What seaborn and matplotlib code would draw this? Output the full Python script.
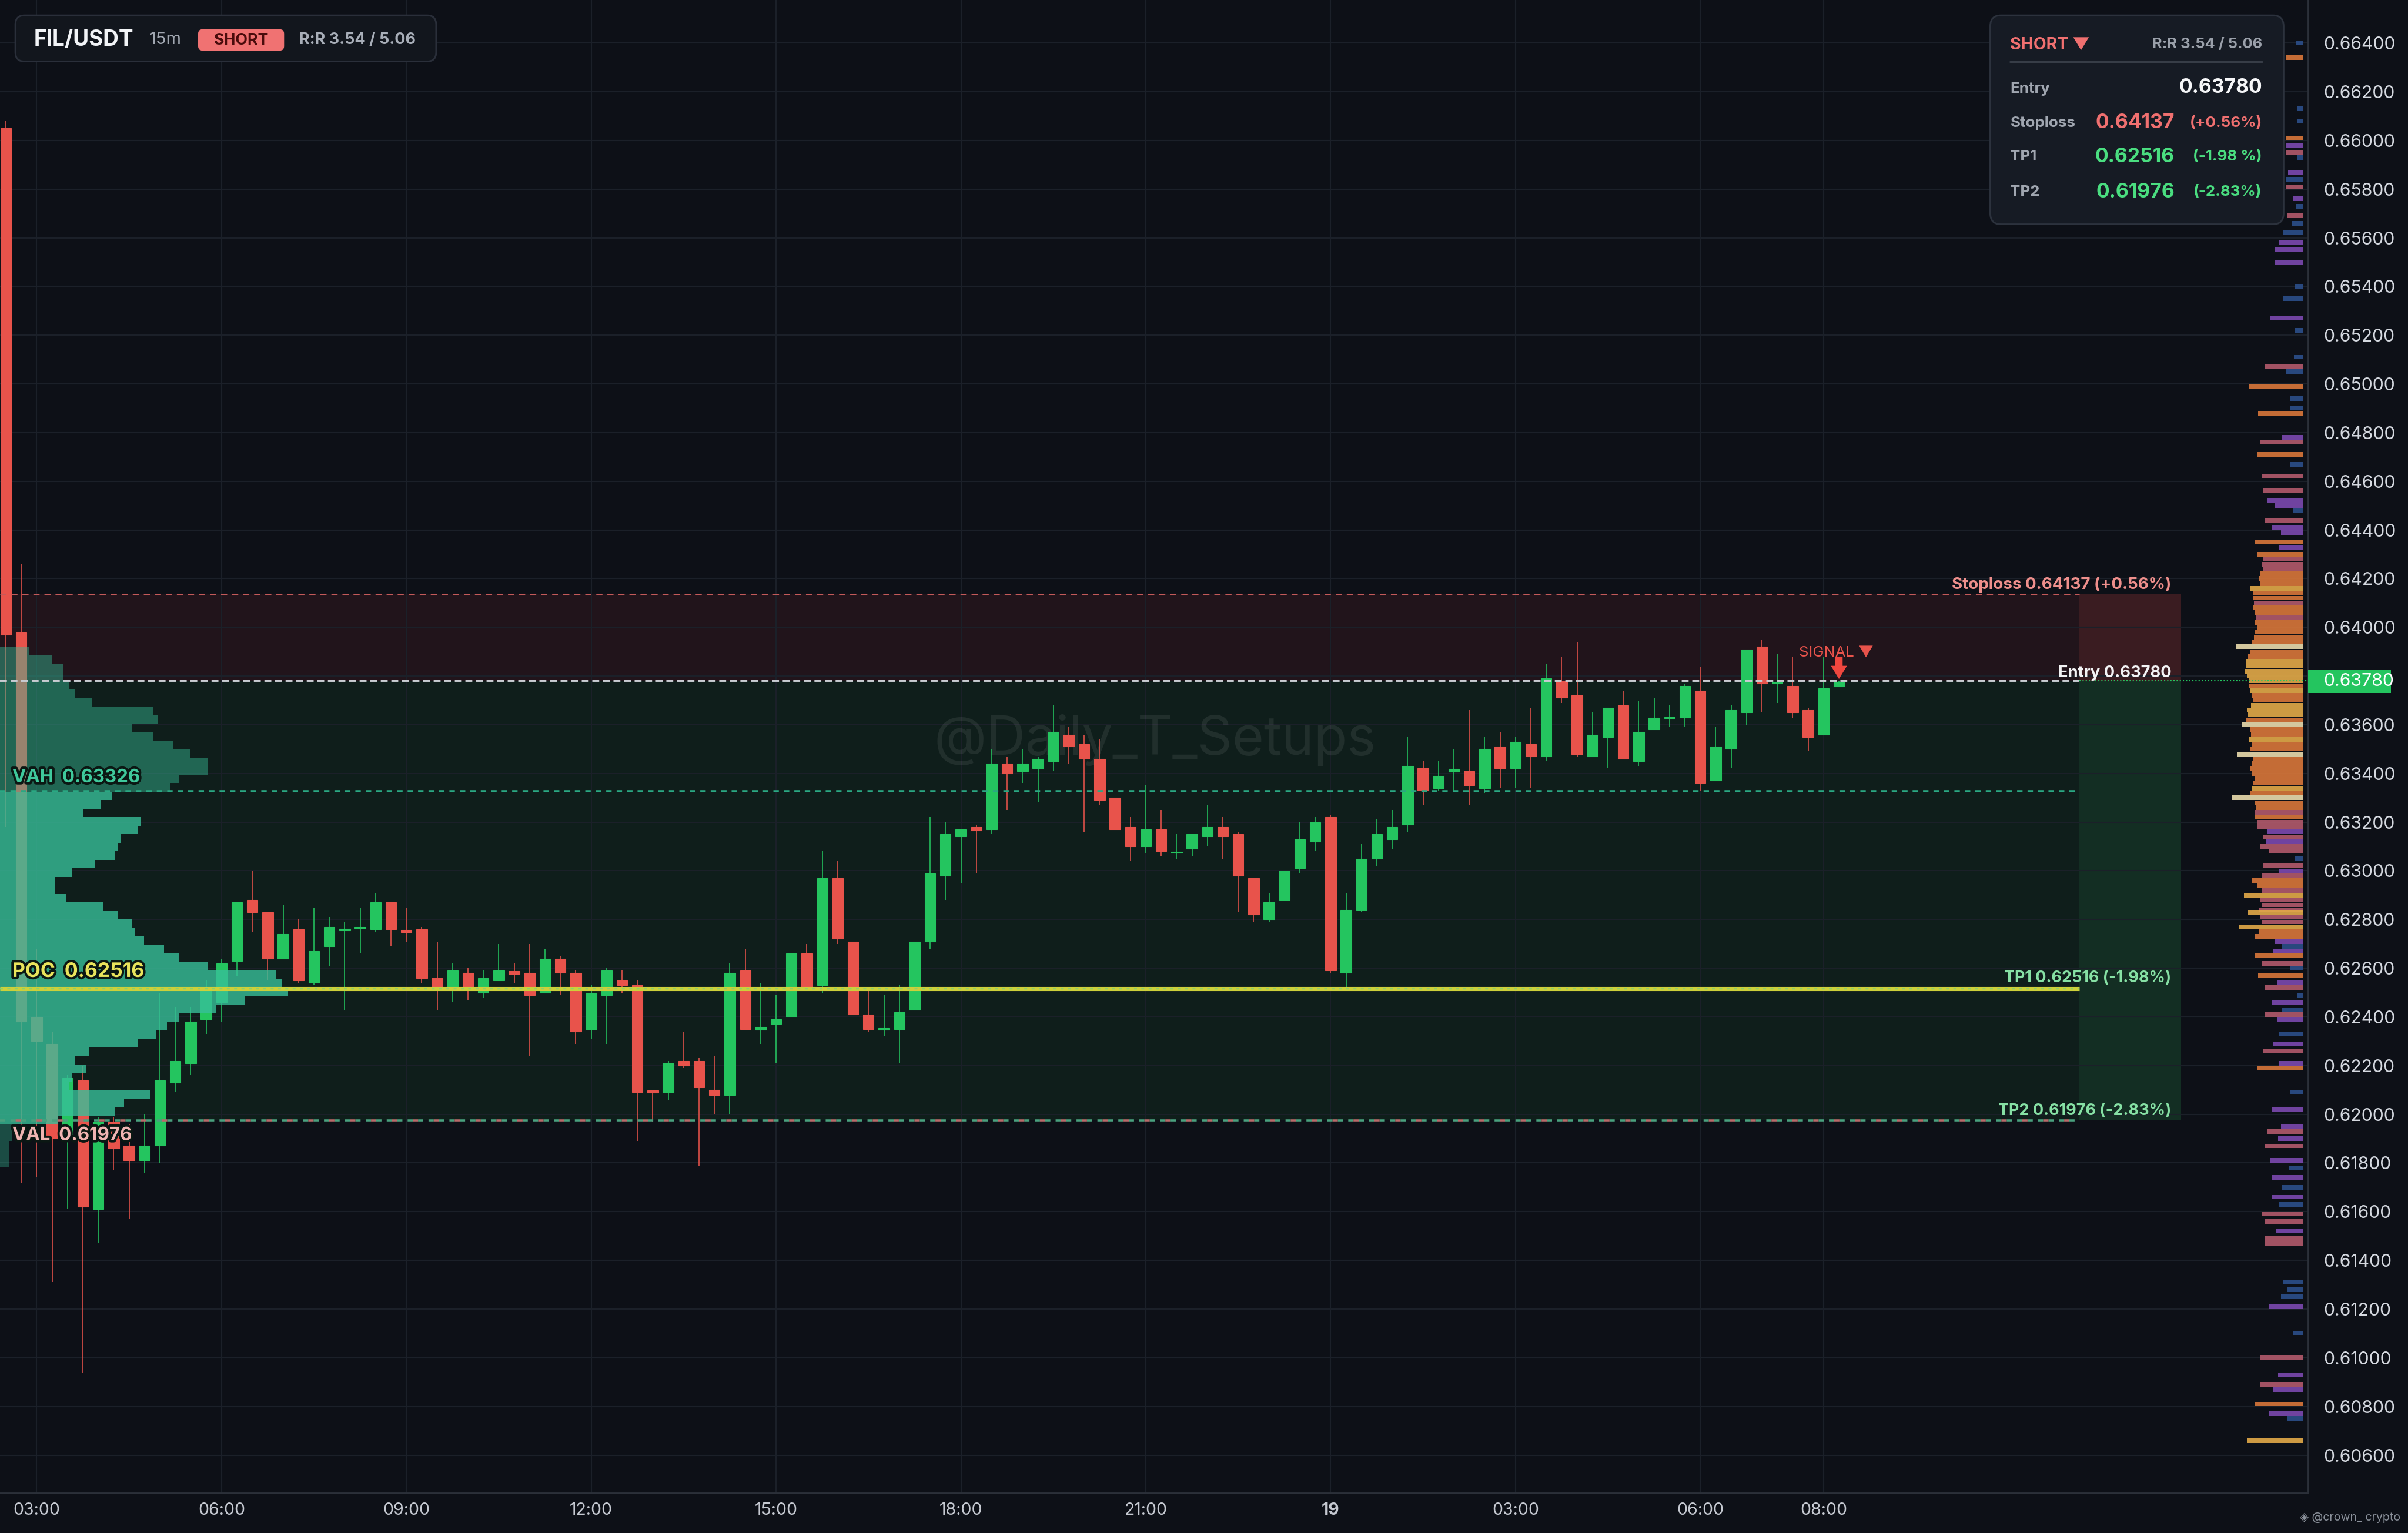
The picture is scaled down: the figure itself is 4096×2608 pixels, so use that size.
import numpy as np
import matplotlib
matplotlib.use('Agg')
import matplotlib.pyplot as plt
import matplotlib.patheffects as pe
from matplotlib.patches import FancyBboxPatch, Rectangle
import seaborn as sns

# FIL/USDT 15m candles, first candle at 02:30
opens = [0.6605, 0.6398, 0.6240, 0.6229, 0.6190, 0.6214, 0.6161, 0.6197, 0.6187, 0.6181,
         0.6187, 0.6213, 0.6221, 0.6239, 0.6246, 0.6263, 0.6288, 0.6283, 0.6264, 0.6276,
         0.6254, 0.6269, 0.62755, 0.62764, 0.6276, 0.6287, 0.62758, 0.6276, 0.6256, 0.6251,
         0.6258, 0.6250, 0.6255, 0.62589, 0.6258, 0.6250, 0.6264, 0.6258, 0.6235, 0.6249,
         0.6255, 0.6253, 0.62097, 0.6209, 0.6222, 0.6222, 0.6210, 0.6208, 0.6259, 0.62348,
         0.6237, 0.6240, 0.6266, 0.6253, 0.6297, 0.6271, 0.6241, 0.62348, 0.6235, 0.6243,
         0.6271, 0.6298, 0.6314, 0.63179, 0.6317, 0.6344, 0.6341, 0.6342, 0.6345, 0.6356,
         0.6352, 0.6346, 0.6330, 0.6318, 0.6310, 0.6317, 0.63074, 0.6309, 0.6314, 0.6318,
         0.6315, 0.6297, 0.6280, 0.6288, 0.6301, 0.6312, 0.6322, 0.6258, 0.6284, 0.6305,
         0.6313, 0.6319, 0.6342, 0.6334, 0.63407, 0.6341, 0.6334, 0.6351, 0.6342, 0.6352,
         0.6347, 0.6378, 0.6372, 0.6347, 0.6355, 0.6368, 0.6345, 0.6358, 0.63627, 0.6363,
         0.6374, 0.6337, 0.6350, 0.6365, 0.6392, 0.63769, 0.6376, 0.6366, 0.6356, 0.63757]
highs = [0.6608, 0.6426, 0.6268, 0.6234, 0.6216, 0.6220, 0.6199, 0.6199, 0.6196, 0.6200,
         0.6250, 0.6244, 0.6244, 0.6255, 0.6264, 0.6287, 0.6300, 0.6283, 0.6286, 0.6280,
         0.6285, 0.6281, 0.6279, 0.6285, 0.6291, 0.6287, 0.6285, 0.6277, 0.6271, 0.6262,
         0.6260, 0.6259, 0.6270, 0.6262, 0.6270, 0.6268, 0.6265, 0.6259, 0.6253, 0.6260,
         0.6259, 0.6255, 0.6210, 0.6222, 0.6234, 0.6223, 0.6224, 0.6262, 0.6268, 0.6254,
         0.6249, 0.6266, 0.6270, 0.6308, 0.6304, 0.6271, 0.6251, 0.6249, 0.6253, 0.6271,
         0.6322, 0.6320, 0.6317, 0.6319, 0.6350, 0.6347, 0.6350, 0.6347, 0.6368, 0.6359,
         0.6356, 0.6354, 0.6330, 0.6322, 0.6335, 0.6325, 0.6315, 0.6315, 0.6327, 0.6322,
         0.6316, 0.6297, 0.6291, 0.6300, 0.6320, 0.6322, 0.6323, 0.6291, 0.6311, 0.6321,
         0.6325, 0.6355, 0.6345, 0.6345, 0.6350, 0.6366, 0.6355, 0.6357, 0.6355, 0.6367,
         0.6385, 0.6388, 0.6394, 0.6365, 0.6367, 0.6374, 0.6370, 0.6371, 0.6368, 0.6377,
         0.6384, 0.6359, 0.6368, 0.6391, 0.6395, 0.6389, 0.6388, 0.6367, 0.6388, 0.6378]
lows = [0.6318, 0.6172, 0.6174, 0.6131, 0.6161, 0.6094, 0.6147, 0.6177, 0.6157, 0.6176,
        0.6180, 0.6209, 0.6216, 0.6233, 0.6238, 0.6257, 0.6275, 0.6255, 0.6264, 0.6254,
        0.6253, 0.6261, 0.6243, 0.6266, 0.6275, 0.6269, 0.6271, 0.6254, 0.6243, 0.6246,
        0.6247, 0.6248, 0.6255, 0.6254, 0.6224, 0.6250, 0.6249, 0.6229, 0.6231, 0.6229,
        0.6250, 0.6189, 0.6197, 0.6206, 0.6219, 0.6179, 0.6200, 0.6200, 0.6235, 0.6229,
        0.6221, 0.6240, 0.6251, 0.6250, 0.6270, 0.6241, 0.6234, 0.6232, 0.6221, 0.6243,
        0.6268, 0.6288, 0.6295, 0.6299, 0.6315, 0.6325, 0.6336, 0.6328, 0.6341, 0.6344,
        0.6316, 0.6327, 0.6317, 0.6304, 0.6307, 0.6306, 0.6305, 0.6306, 0.6310, 0.6305,
        0.6283, 0.6279, 0.6279, 0.6288, 0.6299, 0.6308, 0.6258, 0.6251, 0.6283, 0.6302,
        0.6309, 0.6316, 0.6327, 0.6333, 0.6333, 0.6327, 0.6332, 0.6334, 0.6334, 0.6334,
        0.6345, 0.6369, 0.6347, 0.6347, 0.6342, 0.6346, 0.6343, 0.6358, 0.6359, 0.6359,
        0.6333, 0.6337, 0.6342, 0.6360, 0.6365, 0.6369, 0.6363, 0.6349, 0.6356, 0.6376]
closes = [0.6397, 0.6238, 0.6230, 0.6190, 0.6215, 0.6162, 0.6197, 0.6186, 0.6181, 0.6187,
          0.6214, 0.6222, 0.6238, 0.6252, 0.6262, 0.6287, 0.6283, 0.6264, 0.6274, 0.6255,
          0.6267, 0.6277, 0.62762, 0.62770, 0.6287, 0.6276, 0.62747, 0.6256, 0.6252, 0.6259,
          0.6251, 0.6256, 0.6259, 0.62576, 0.6249, 0.6264, 0.6258, 0.6234, 0.6250, 0.6259,
          0.6253, 0.6209, 0.62089, 0.6221, 0.6220, 0.6211, 0.6208, 0.6258, 0.6235, 0.62360,
          0.6239, 0.6266, 0.6252, 0.6297, 0.6272, 0.6241, 0.6235, 0.62352, 0.6242, 0.6271,
          0.6299, 0.6315, 0.6317, 0.63166, 0.6344, 0.6340, 0.6344, 0.6346, 0.6357, 0.6351,
          0.6346, 0.6329, 0.6317, 0.6310, 0.6317, 0.6308, 0.63078, 0.6315, 0.6318, 0.6314,
          0.6298, 0.6282, 0.6287, 0.6300, 0.6313, 0.6320, 0.6259, 0.6284, 0.6305, 0.6315,
          0.6318, 0.6343, 0.6333, 0.6339, 0.63419, 0.6335, 0.6350, 0.6342, 0.6353, 0.6347,
          0.6379, 0.6371, 0.6348, 0.6356, 0.6367, 0.6346, 0.6357, 0.6363, 0.63631, 0.6376,
          0.6336, 0.6351, 0.6366, 0.6391, 0.6377, 0.63775, 0.6365, 0.6355, 0.6375, 0.63777]

time_ticks = [2, 14, 26, 38, 50, 62, 74, 86, 98, 110, 118]
time_labels = ['03:00', '06:00', '09:00', '12:00', '15:00', '18:00', '21:00', '19',
               '03:00', '06:00', '08:00']

entry = 0.63780
stoploss = 0.64137
tp1 = 0.62516
tp2 = 0.61976
vah = 0.63326
poc = 0.62516
val = 0.61976

# session volume profile on the left (rows of 0.00035 going down from 0.6392)
vp_top = 0.6392
vp_step = 0.00035
vp_width = [10, 18, 22, 22, 24, 26, 32, 53, 55, 46,
            53, 60, 66, 72, 72, 62, 59, 39, 35, 29,
            49, 48, 42, 41, 40, 33, 25, 19, 19, 23,
            36, 41, 46, 47, 50, 57, 62, 72, 96, 98,
            100, 85, 75, 62, 58, 54, 48, 31, 26, 30,
            25, 24, 52, 43, 40, 20, 4, 4, 3, 3, 3]

# visible-range profile on the right edge
rp_price = [0.6640, 0.6634, 0.6613, 0.6608, 0.6601, 0.6598, 0.6595, 0.6593, 0.6587, 0.6584,
            0.6581, 0.6576, 0.6573, 0.6569, 0.6566, 0.6562, 0.6558, 0.6555, 0.6550, 0.6540,
            0.6535, 0.6527, 0.6522, 0.6511, 0.6507, 0.6505, 0.6499, 0.6494, 0.6490, 0.6488,
            0.6478, 0.6476, 0.6471, 0.6467, 0.6462, 0.6456, 0.6452, 0.6450, 0.6448, 0.6444,
            0.6441, 0.6439, 0.6435, 0.6433, 0.6430, 0.6428, 0.6426, 0.6424, 0.6422, 0.6420,
            0.6418, 0.6416, 0.6414, 0.6412, 0.6410, 0.6408, 0.6406, 0.6404, 0.6402, 0.6400,
            0.6398, 0.6396, 0.6394, 0.6392, 0.6390, 0.6388, 0.6386, 0.6384, 0.6382, 0.6380,
            0.6378, 0.6376, 0.6374, 0.6372, 0.6370, 0.6368, 0.6366, 0.6364, 0.6362, 0.6360,
            0.6358, 0.6356, 0.6354, 0.6352, 0.6350, 0.6348, 0.6346, 0.6344, 0.6342, 0.6340,
            0.6338, 0.6336, 0.6334, 0.6332, 0.6330, 0.6328, 0.6326, 0.6324, 0.6322, 0.6320,
            0.6318, 0.6316, 0.6314, 0.6312, 0.6310, 0.6308, 0.6305, 0.6302, 0.6300, 0.6298,
            0.6296, 0.6294, 0.6292, 0.6290, 0.6288, 0.6286, 0.6284, 0.6283, 0.6281, 0.6279,
            0.6277, 0.6275, 0.6273, 0.6271, 0.6269, 0.6267, 0.6265, 0.6262, 0.6260, 0.6257,
            0.6254, 0.6252, 0.6249, 0.6246, 0.6243, 0.6241, 0.6239, 0.6233, 0.6229, 0.6226,
            0.6221, 0.6219, 0.6209, 0.6202, 0.6195, 0.6193, 0.6190, 0.6187, 0.6181, 0.6178,
            0.6174, 0.6170, 0.6166, 0.6163, 0.6159, 0.6156, 0.6152, 0.6149, 0.6147, 0.6131,
            0.6128, 0.6125, 0.6121, 0.6110, 0.6100, 0.6093, 0.6089, 0.6087, 0.6081, 0.6077,
            0.6075, 0.6066]
rp_len = [10, 24, 8, 8, 24, 24, 24, 8, 21, 24,
          24, 14, 10, 22, 15, 28, 33, 40, 39, 11,
          28, 46, 11, 12, 53, 24, 76, 17, 18, 63,
          29, 60, 64, 17, 58, 56, 50, 40, 14, 54,
          44, 31, 67, 33, 64, 56, 58, 56, 61, 62,
          60, 74, 70, 71, 69, 71, 68, 66, 67, 64,
          68, 69, 72, 94, 75, 78, 80, 81, 82, 79,
          76, 76, 74, 72, 70, 73, 79, 77, 80, 86,
          75, 73, 76, 72, 74, 93, 70, 72, 74, 72,
          68, 70, 72, 74, 100, 68, 66, 67, 68, 64,
          64, 50, 56, 52, 60, 48, 11, 56, 34, 58,
          72, 64, 58, 83, 60, 58, 62, 78, 60, 58,
          90, 62, 67, 40, 30, 42, 68, 58, 17, 63,
          36, 53, 8, 44, 30, 53, 36, 33, 42, 56,
          34, 65, 17, 43, 31, 51, 35, 53, 46, 20,
          44, 29, 44, 34, 58, 54, 38, 54, 54, 28,
          22, 31, 47, 14, 60, 35, 61, 42, 68, 47,
          22, 79]
rp_kind = ("bobbopmbpb" "mpbmbbpppb" "bpbbmbobbo" "pmobmmppbm" "ppopommmoo"
           "oyoomoomoo" "ooowooyyyy" "yoyooyyyow" "ooyoowoooo" "ooyowoomom"
           "mpmpmmbmpm" "oomymmmymm" "yoopbpombo" "pmbpbmpbpm" "pobppmpmpb"
           "pbpbmmpmmb" "bbpbmpmpop" "by")

# ---- style ----
BG = '#0d1017'
GRID = '#1b2029'
UP = '#24c55f'
DOWN = '#e8534b'
sns.set_theme(style='dark', rc={'axes.facecolor': BG, 'figure.facecolor': BG,
                                'axes.grid': True, 'grid.color': GRID, 'grid.linewidth': 0.6,
                                'axes.edgecolor': '#2a2f38', 'axes.axisbelow': True})
plt.rcParams['font.family'] = ['Inter', 'DejaVu Sans']

fig = plt.figure(figsize=(16, 10.1875), dpi=256)
ax = fig.add_axes([0, 26 / 998, 1503 / 1568, 972 / 998])
x0, x1 = -0.38, 149.46
box0, box1 = 134.6, 141.2
ax.set_xlim(x0, x1)
ax.set_ylim(0.604442, 0.665767)

# trade zones
ax.fill_between([x0, box0], entry, stoploss, color='#21141b', lw=0, zorder=0.2)
ax.fill_between([x0, box0], tp2, entry, color='#0f1e1b', lw=0, zorder=0.2)
ax.fill_between([box0, box1], entry, stoploss, color='#3a1c21', lw=0, zorder=0.2)
ax.fill_between([box0, box1], tp2, entry, color='#132e23', lw=0, zorder=0.2)

ax.text(74.6, 0.63536, '@Daily_T_Setups', fontsize=26, color='white', alpha=0.08,
        ha='center', va='center', zorder=1)

# candles
o, h, l, c = map(np.array, (opens, highs, lows, closes))
xs = np.arange(len(o))
cols = np.where(c >= o, UP, DOWN)
ax.vlines(xs, l, h, colors=cols, linewidth=0.45, zorder=4)
ax.bar(xs, np.maximum(np.abs(c - o), 0.00005), bottom=np.minimum(o, c), width=0.7,
       color=cols, edgecolor=cols, linewidth=0.3, zorder=5)

# left session profile
vp_c = vp_top - vp_step * (np.arange(len(vp_width)) + 0.5)
vp_cols = []
for pc in vp_c:
    a = 0.45 if pc > vah else (0.80 if pc >= val else 0.35)
    vp_cols.append((0.22, 0.75, 0.60, a))
ax.barh(vp_c, np.array(vp_width) * 0.187, height=vp_step, left=x0, color=vp_cols,
        linewidth=0, zorder=6)

# right visible-range profile
kind_colors = {'o': '#d9773a', 'y': '#e3aa48', 'w': '#eadcae', 'p': '#7c49b0',
               'm': '#b25a6c', 'b': '#2c4f8a'}
rp_edge = 149.1
for pr, ln, k in zip(rp_price, rp_len, rp_kind):
    w = ln * 0.0458
    ax.barh(pr, w, height=0.00019, left=rp_edge - w, color=kind_colors[k], alpha=0.9,
            linewidth=0, zorder=3)

# levels
ax.hlines(stoploss, x0, box0, color='#c45a5a', lw=0.8, linestyles=(0, (3.7, 2.9)), zorder=7)
ax.hlines(entry, x0, box0, color='#c9ccd2', lw=1.1, linestyles=(0, (3, 1.6)), zorder=7)
ax.hlines(entry, box0, x1, color=UP, lw=0.6, linestyles=(0, (1, 1.5)), zorder=7)
ax.hlines(vah, x0, box0, color='#2aa883', lw=1.0, linestyles=(0, (2.6, 2.4)), zorder=7)
ax.hlines(val, x0, box0, color='#4aa07e', lw=1.0, linestyles=(0, (2.5, 2.5)), zorder=7)
ax.hlines(val, x0, box0, color='#b86a6a', lw=1.0, linestyles=(2.5, (2.5, 7.5)), zorder=7)
ax.hlines(poc, x0, box0, color='#cdd03a', lw=2.0, zorder=7)
ax.hlines(poc, x0, box0, color='#8fd06a', lw=0.7, linestyles=(0, (2, 3)), zorder=7)

stroke = [pe.withStroke(linewidth=2.2, foreground='#0b1713')]
ax.text(0.42, vah + 0.00057, 'VAH  0.63326', fontsize=8.8, fontweight='bold',
        color='#3fc99c', va='center', ha='left', zorder=9, path_effects=stroke)
ax.text(0.42, poc + 0.00070, 'POC  0.62516', fontsize=9.5, fontweight='bold',
        color='#e8e45c', va='center', ha='left', zorder=9, path_effects=stroke)
ax.text(0.42, val - 0.00063, 'VAL  0.61976', fontsize=8.8, fontweight='bold',
        color='#f0b4b2', va='center', ha='left', zorder=9, path_effects=stroke)

lx = 140.58
ax.text(lx, stoploss + 0.00038, 'Stoploss 0.64137 (+0.56%)', fontsize=7.8,
        fontweight='bold', color='#ee8f8c', ha='right', va='center', zorder=9)
ax.text(lx, entry + 0.00032, 'Entry 0.63780', fontsize=7.7, fontweight='bold',
        color='#f2f3f5', ha='right', va='center', zorder=9)
ax.text(lx, tp1 + 0.00044, 'TP1 0.62516 (-1.98%)', fontsize=7.6, fontweight='bold',
        color='#86e0a4', ha='right', va='center', zorder=9)
ax.text(lx, tp2 + 0.00038, 'TP2 0.61976 (-2.83%)', fontsize=7.6, fontweight='bold',
        color='#86e0a4', ha='right', va='center', zorder=9)

ax.text(116.4, 0.63895, 'SIGNAL ▼', fontsize=7.2, color=DOWN, ha='left', va='center', zorder=9)
ax.annotate('', xy=(119, 0.63788), xytext=(119, 0.63880),
            arrowprops=dict(arrowstyle='simple,head_width=1.1,head_length=0.9,tail_width=0.5',
                            color='#f0473f', lw=0, mutation_scale=7, shrinkA=0, shrinkB=0),
            zorder=9)

# axes and ticks
yt = np.round(np.arange(0.606, 0.6641, 0.002), 3)
ax.set_yticks(yt)
ax.set_yticklabels(['' if abs(v - 0.638) < 1e-6 else f'{v:.5f}' for v in yt])
ax.yaxis.tick_right()
ax.tick_params(axis='y', length=0, pad=7.3, labelsize=8.5, labelcolor='#d5d9e0')
ax.set_xticks(time_ticks)
ax.set_xticklabels(time_labels)
ax.tick_params(axis='x', length=0, pad=4.5, labelsize=8, labelcolor='#c5c9d1')
ax.get_xticklabels()[7].set_fontweight('bold')
ax.grid(True, color=GRID, lw=0.6)
for s in ['left', 'top']:
    ax.spines[s].set_visible(False)
for s in ['right', 'bottom']:
    ax.spines[s].set_color('#2b3039')
    ax.spines[s].set_linewidth(0.8)

# overlay in picture pixels for the header, info card and price tag
ov = fig.add_axes([0, 0, 1, 1])
ov.set_xlim(0, 1568)
ov.set_ylim(998, 0)
ov.axis('off')
ov.set_zorder(10)

ov.add_patch(FancyBboxPatch((10, 10), 274, 30, boxstyle='round,pad=0,rounding_size=6',
                            fc='#12161d', ec='#2a2f3a', lw=0.8))
ov.text(22, 26, 'FIL/USDT', fontsize=10.4, fontweight='bold', color='#f2f4f7', va='center')
ov.text(97, 26, '15m', fontsize=8.2, color='#a0a6b0', va='center')
ov.add_patch(FancyBboxPatch((129, 19), 56, 14, boxstyle='round,pad=0,rounding_size=3',
                            fc='#f07272', ec='none'))
ov.text(157, 26.5, 'SHORT', fontsize=7.5, fontweight='bold', color='#4a0c0c',
        ha='center', va='center')
ov.text(195, 26, 'R:R 3.54 / 5.06', fontsize=7.6, fontweight='bold', color='#a8aeb8',
        va='center')

ov.add_patch(FancyBboxPatch((1296, 10), 191, 136, boxstyle='round,pad=0,rounding_size=7',
                            fc='#161b24', ec='#2c323d', lw=0.8))
ov.text(1309, 29, 'SHORT ▼', fontsize=8, fontweight='bold', color='#f07070', va='center')
ov.text(1473, 29, 'R:R 3.54 / 5.06', fontsize=7.2, fontweight='bold', color='#9aa0aa',
        ha='right', va='center')
ov.plot([1309, 1473], [40, 40], color='#3a404b', lw=0.8)
card_rows = [('Entry', '0.63780', '', '#f5f6f8', 58),
             ('Stoploss', '0.64137', '(+0.56%)', '#f07070', 80),
             ('TP1', '0.62516', '(-1.98 %)', '#4ade80', 102),
             ('TP2', '0.61976', '(-2.83%)', '#4ade80', 125)]
for name, price, pct, col, yy in card_rows:
    ov.text(1309, yy, name, fontsize=7.3, fontweight='bold', color='#a0a6b0', va='center')
    if pct:
        ov.text(1416, yy, price, fontsize=9.5, fontweight='bold', color=col,
                ha='right', va='center')
        ov.text(1473, yy, pct, fontsize=7.3, fontweight='bold', color=col,
                ha='right', va='center')
    else:
        ov.text(1473, yy - 1, price, fontsize=9.5, fontweight='bold', color=col,
                ha='right', va='center')

ov.add_patch(Rectangle((1503, 436), 54, 15, fc=UP, ec='none'))
ov.text(1513, 443.5, '0.63780', fontsize=8.5, color='white', va='center', ha='left')
ov.text(1563, 988, '◈ @crown_ crypto', fontsize=5.5, color='#8a909a', ha='right', va='center')

fig.savefig('out.png', dpi=256, facecolor=BG)
